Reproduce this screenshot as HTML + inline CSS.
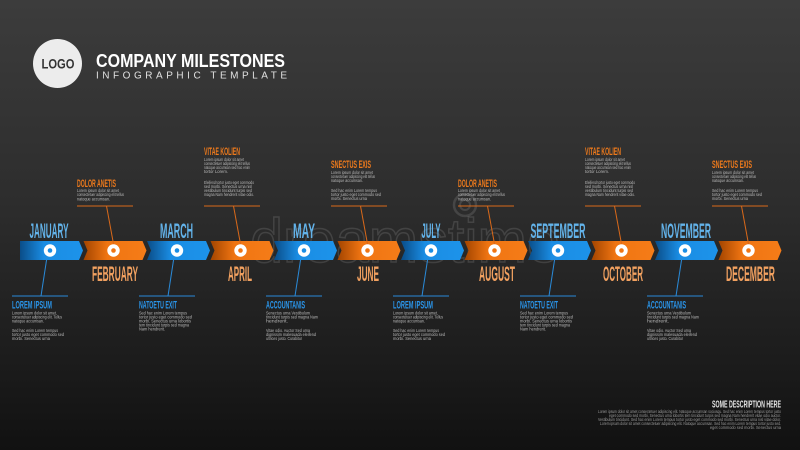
<!DOCTYPE html>
<html><head><meta charset="utf-8">
<style>
html,body{margin:0;padding:0;background:#222;}
svg{display:block;}
.t{font-family:"Liberation Sans",sans-serif;}
.m{font-family:"Liberation Sans Narrow","Liberation Sans",sans-serif;font-weight:bold;}
.tiny{font-family:"Liberation Sans",sans-serif;font-size:4.3px;fill:#b8b8b8;}
</style></head>
<body>
<svg width="800" height="450" viewBox="0 0 800 450" xmlns="http://www.w3.org/2000/svg">
<defs>
<linearGradient id="bg" x1="0" y1="0" x2="0" y2="1">
<stop offset="0" stop-color="#3c3c3c"/><stop offset="0.45" stop-color="#2d2d2d"/><stop offset="0.8" stop-color="#1c1c1c"/><stop offset="1" stop-color="#111"/>
</linearGradient>
<linearGradient id="gb" x1="0" y1="0" x2="1" y2="0">
<stop offset="0" stop-color="#0a4d88"/><stop offset="0.38" stop-color="#1a8de4"/><stop offset="1" stop-color="#1d93ea"/>
</linearGradient>
<linearGradient id="go" x1="0" y1="0" x2="1" y2="0">
<stop offset="0" stop-color="#a34500"/><stop offset="0.38" stop-color="#f07512"/><stop offset="1" stop-color="#f57c18"/>
</linearGradient>
</defs>
<rect width="800" height="450" fill="url(#bg)"/>

<!-- watermark -->
<text x="250" y="262" class="t" font-size="62" fill="none" stroke="rgba(255,255,255,0.12)" stroke-width="1.5" textLength="310" lengthAdjust="spacingAndGlyphs">dreamstime</text>
<circle cx="465" cy="205" r="11" fill="none" stroke="rgba(255,255,255,0.12)" stroke-width="2.5"/>
<circle cx="465" cy="205" r="5" fill="none" stroke="rgba(255,255,255,0.12)" stroke-width="2"/>

<!-- header -->
<circle cx="57.5" cy="63.5" r="24.5" fill="#ececec"/>
<text x="58" y="68.5" class="t" font-size="14" font-weight="bold" fill="#333" text-anchor="middle" textLength="33" lengthAdjust="spacingAndGlyphs">LOGO</text>
<text x="96" y="67" class="t" font-size="18.5" font-weight="bold" fill="#fff" textLength="189" lengthAdjust="spacingAndGlyphs">COMPANY MILESTONES</text>
<text x="96" y="78.5" class="t" font-size="10" fill="#e0e0e0" textLength="191" lengthAdjust="spacing">INFOGRAPHIC TEMPLATE</text>

<!-- segments -->
<g>
<polygon points="20,241 79,241 83,250.5 79,260 20,260" fill="url(#gb)"/>
<polygon points="83.5,241 142.5,241 146.5,250.5 142.5,260 83.5,260 87.5,250.5" fill="url(#go)"/>
<polygon points="147,241 206,241 210,250.5 206,260 147,260 151,250.5" fill="url(#gb)"/>
<polygon points="210.5,241 269.5,241 273.5,250.5 269.5,260 210.5,260 214.5,250.5" fill="url(#go)"/>
<polygon points="274,241 333,241 337,250.5 333,260 274,260 278,250.5" fill="url(#gb)"/>
<polygon points="337.5,241 396.5,241 400.5,250.5 396.5,260 337.5,260 341.5,250.5" fill="url(#go)"/>
<polygon points="401,241 460,241 464,250.5 460,260 401,260 405,250.5" fill="url(#gb)"/>
<polygon points="464.5,241 523.5,241 527.5,250.5 523.5,260 464.5,260 468.5,250.5" fill="url(#go)"/>
<polygon points="528,241 587,241 591,250.5 587,260 528,260 532,250.5" fill="url(#gb)"/>
<polygon points="591.5,241 650.5,241 654.5,250.5 650.5,260 591.5,260 595.5,250.5" fill="url(#go)"/>
<polygon points="655,241 714,241 718,250.5 714,260 655,260 659,250.5" fill="url(#gb)"/>
<polygon points="718.5,241 777.5,241 781.5,250.5 777.5,260 718.5,260 722.5,250.5" fill="url(#go)"/>
</g>

<!-- circles -->
<g>
<circle cx="50" cy="250.5" r="6.2" fill="#fff"/><circle cx="50" cy="250.5" r="2.3" fill="#1a8de4"/>
<circle cx="113.5" cy="250.5" r="6.2" fill="#fff"/><circle cx="113.5" cy="250.5" r="2.3" fill="#f07512"/>
<circle cx="177" cy="250.5" r="6.2" fill="#fff"/><circle cx="177" cy="250.5" r="2.3" fill="#1a8de4"/>
<circle cx="240.5" cy="250.5" r="6.2" fill="#fff"/><circle cx="240.5" cy="250.5" r="2.3" fill="#f07512"/>
<circle cx="304" cy="250.5" r="6.2" fill="#fff"/><circle cx="304" cy="250.5" r="2.3" fill="#1a8de4"/>
<circle cx="367.5" cy="250.5" r="6.2" fill="#fff"/><circle cx="367.5" cy="250.5" r="2.3" fill="#f07512"/>
<circle cx="431" cy="250.5" r="6.2" fill="#fff"/><circle cx="431" cy="250.5" r="2.3" fill="#1a8de4"/>
<circle cx="494.5" cy="250.5" r="6.2" fill="#fff"/><circle cx="494.5" cy="250.5" r="2.3" fill="#f07512"/>
<circle cx="558" cy="250.5" r="6.2" fill="#fff"/><circle cx="558" cy="250.5" r="2.3" fill="#1a8de4"/>
<circle cx="621.5" cy="250.5" r="6.2" fill="#fff"/><circle cx="621.5" cy="250.5" r="2.3" fill="#f07512"/>
<circle cx="685" cy="250.5" r="6.2" fill="#fff"/><circle cx="685" cy="250.5" r="2.3" fill="#1a8de4"/>
<circle cx="748.5" cy="250.5" r="6.2" fill="#fff"/><circle cx="748.5" cy="250.5" r="2.3" fill="#f07512"/>
</g>

<!-- month labels -->
<g class="m" font-size="21" text-anchor="middle">
<text x="49" y="238" fill="#63b3ea" textLength="39" lengthAdjust="spacingAndGlyphs">JANUARY</text>
<text x="176.5" y="238" fill="#63b3ea" textLength="33" lengthAdjust="spacingAndGlyphs">MARCH</text>
<text x="304" y="238" fill="#63b3ea" textLength="22" lengthAdjust="spacingAndGlyphs">MAY</text>
<text x="431" y="238" fill="#63b3ea" textLength="19" lengthAdjust="spacingAndGlyphs">JULY</text>
<text x="558" y="238" fill="#63b3ea" textLength="55" lengthAdjust="spacingAndGlyphs">SEPTEMBER</text>
<text x="686" y="238" fill="#63b3ea" textLength="50" lengthAdjust="spacingAndGlyphs">NOVEMBER</text>
<text x="115" y="281" fill="#f2a160" textLength="46" lengthAdjust="spacingAndGlyphs">FEBRUARY</text>
<text x="240" y="281" fill="#f2a160" textLength="24" lengthAdjust="spacingAndGlyphs">APRIL</text>
<text x="368" y="281" fill="#f2a160" textLength="22" lengthAdjust="spacingAndGlyphs">JUNE</text>
<text x="497" y="281" fill="#f2a160" textLength="36" lengthAdjust="spacingAndGlyphs">AUGUST</text>
<text x="623" y="281" fill="#f2a160" textLength="40" lengthAdjust="spacingAndGlyphs">OCTOBER</text>
<text x="750.5" y="281" fill="#f2a160" textLength="49" lengthAdjust="spacingAndGlyphs">DECEMBER</text>
</g>

<!-- top connectors & rules (orange) -->
<g stroke="#d9691a" stroke-width="1" fill="none">
<line x1="77" y1="206" x2="133" y2="206"/><line x1="106.5" y1="206" x2="113.5" y2="244"/>
<line x1="204" y1="206" x2="260" y2="206"/><line x1="233.5" y1="206" x2="240.5" y2="244"/>
<line x1="331" y1="206" x2="387" y2="206"/><line x1="360.5" y1="206" x2="367.5" y2="244"/>
<line x1="458" y1="206" x2="514" y2="206"/><line x1="487.5" y1="206" x2="494.5" y2="244"/>
<line x1="585" y1="206" x2="641" y2="206"/><line x1="614.5" y1="206" x2="621.5" y2="244"/>
<line x1="712" y1="206" x2="768" y2="206"/><line x1="741.5" y1="206" x2="748.5" y2="244"/>
</g>
<!-- bottom connectors & rules (blue) -->
<g stroke="#2a8ad8" stroke-width="1" fill="none">
<line x1="12" y1="296" x2="68" y2="296"/><line x1="47" y1="257" x2="41" y2="296"/>
<line x1="139" y1="296" x2="195" y2="296"/><line x1="174" y1="257" x2="168" y2="296"/>
<line x1="266" y1="296" x2="322" y2="296"/><line x1="301" y1="257" x2="295" y2="296"/>
<line x1="393" y1="296" x2="449" y2="296"/><line x1="428" y1="257" x2="422" y2="296"/>
<line x1="520" y1="296" x2="576" y2="296"/><line x1="555" y1="257" x2="549" y2="296"/>
<line x1="647" y1="296" x2="703" y2="296"/><line x1="682" y1="257" x2="676" y2="296"/>
</g>

<!-- top callouts -->
<g class="m" font-size="11" fill="#ee7a1c">
<text x="77" y="187" textLength="39" lengthAdjust="spacingAndGlyphs">DOLOR ANETIS</text>
<text x="204" y="155" textLength="36" lengthAdjust="spacingAndGlyphs">VITAE KOLIEN</text>
<text x="331" y="168" textLength="40" lengthAdjust="spacingAndGlyphs">SNECTUS EXIS</text>
<text x="458" y="187" textLength="39" lengthAdjust="spacingAndGlyphs">DOLOR ANETIS</text>
<text x="585" y="155" textLength="36" lengthAdjust="spacingAndGlyphs">VITAE KOLIEN</text>
<text x="712" y="168" textLength="40" lengthAdjust="spacingAndGlyphs">SNECTUS EXIS</text>
</g>
<g class="tiny">
<!-- Feb -->
<text x="77" y="192" textLength="42" lengthAdjust="spacingAndGlyphs">Lorem ipsum dolor sit amet</text>
<text x="77" y="196.2" textLength="47" lengthAdjust="spacingAndGlyphs">consectetuer adipiscing elit tellus</text>
<text x="77" y="200.4" textLength="33" lengthAdjust="spacingAndGlyphs">natoque accumsan.</text>
<!-- Aug -->
<text x="458" y="192" textLength="42" lengthAdjust="spacingAndGlyphs">Lorem ipsum dolor sit amet</text>
<text x="458" y="196.2" textLength="47" lengthAdjust="spacingAndGlyphs">consectetuer adipiscing elit tellus</text>
<text x="458" y="200.4" textLength="33" lengthAdjust="spacingAndGlyphs">natoque accumsan.</text>
<!-- Apr -->
<text x="204" y="161" textLength="40" lengthAdjust="spacingAndGlyphs">Lorem ipsum dolor sit amet</text>
<text x="204" y="165" textLength="46" lengthAdjust="spacingAndGlyphs">consectetuer adipiscing elit tellus</text>
<text x="204" y="169" textLength="46" lengthAdjust="spacingAndGlyphs">natoque accumsan sed hac enim</text>
<text x="204" y="173" textLength="24" lengthAdjust="spacingAndGlyphs">tortor Lorem.</text>
<text x="204" y="184" textLength="50" lengthAdjust="spacingAndGlyphs">Eleifend tortor justo eget commodo</text>
<text x="204" y="188" textLength="48" lengthAdjust="spacingAndGlyphs">sed morbi. Senectus urna nisl</text>
<text x="204" y="192" textLength="48" lengthAdjust="spacingAndGlyphs">vestibulum tincidunt turpis sed</text>
<text x="204" y="196" textLength="50" lengthAdjust="spacingAndGlyphs">magna Nam hendrerit vitae odio.</text>
<!-- Oct -->
<text x="585" y="161" textLength="40" lengthAdjust="spacingAndGlyphs">Lorem ipsum dolor sit amet</text>
<text x="585" y="165" textLength="46" lengthAdjust="spacingAndGlyphs">consectetuer adipiscing elit tellus</text>
<text x="585" y="169" textLength="46" lengthAdjust="spacingAndGlyphs">natoque accumsan sed hac enim</text>
<text x="585" y="173" textLength="24" lengthAdjust="spacingAndGlyphs">tortor Lorem.</text>
<text x="585" y="184" textLength="50" lengthAdjust="spacingAndGlyphs">Eleifend tortor justo eget commodo</text>
<text x="585" y="188" textLength="48" lengthAdjust="spacingAndGlyphs">sed morbi. Senectus urna nisl</text>
<text x="585" y="192" textLength="48" lengthAdjust="spacingAndGlyphs">vestibulum tincidunt turpis sed</text>
<text x="585" y="196" textLength="50" lengthAdjust="spacingAndGlyphs">magna Nam hendrerit vitae odio.</text>
<!-- Jun -->
<text x="331" y="174" textLength="42" lengthAdjust="spacingAndGlyphs">Lorem ipsum dolor sit amet</text>
<text x="331" y="178" textLength="44" lengthAdjust="spacingAndGlyphs">consectetuer adipiscing elit tellus</text>
<text x="331" y="182" textLength="32" lengthAdjust="spacingAndGlyphs">natoque accumsan.</text>
<text x="331" y="192" textLength="46" lengthAdjust="spacingAndGlyphs">Sed hac enim Lorem tempus</text>
<text x="331" y="196" textLength="50" lengthAdjust="spacingAndGlyphs">tortor justo eget commodo sed</text>
<text x="331" y="200" textLength="36" lengthAdjust="spacingAndGlyphs">morbi. Senectus urna</text>
<!-- Dec -->
<text x="712" y="174" textLength="42" lengthAdjust="spacingAndGlyphs">Lorem ipsum dolor sit amet</text>
<text x="712" y="178" textLength="44" lengthAdjust="spacingAndGlyphs">consectetuer adipiscing elit tellus</text>
<text x="712" y="182" textLength="32" lengthAdjust="spacingAndGlyphs">natoque accumsan.</text>
<text x="712" y="192" textLength="46" lengthAdjust="spacingAndGlyphs">Sed hac enim Lorem tempus</text>
<text x="712" y="196" textLength="50" lengthAdjust="spacingAndGlyphs">tortor justo eget commodo sed</text>
<text x="712" y="200" textLength="36" lengthAdjust="spacingAndGlyphs">morbi. Senectus urna</text>
</g>

<!-- bottom callouts -->
<g class="m" font-size="11" fill="#2a95ea">
<text x="12" y="308.5" textLength="40" lengthAdjust="spacingAndGlyphs">LOREM IPSUM</text>
<text x="139" y="308.5" textLength="38" lengthAdjust="spacingAndGlyphs">NATOETU EXIT</text>
<text x="266" y="308.5" textLength="39" lengthAdjust="spacingAndGlyphs">ACCOUNTANIS</text>
<text x="393" y="308.5" textLength="40" lengthAdjust="spacingAndGlyphs">LOREM IPSUM</text>
<text x="520" y="308.5" textLength="38" lengthAdjust="spacingAndGlyphs">NATOETU EXIT</text>
<text x="647" y="308.5" textLength="39" lengthAdjust="spacingAndGlyphs">ACCOUNTANIS</text>
</g>
<g class="tiny">
<!-- Jan -->
<text x="12" y="314.5" textLength="45" lengthAdjust="spacingAndGlyphs">Lorem ipsum dolor sit amet,</text>
<text x="12" y="318.5" textLength="50" lengthAdjust="spacingAndGlyphs">consectetuer adipiscing elit. Tellus</text>
<text x="12" y="322.5" textLength="32" lengthAdjust="spacingAndGlyphs">natoque accumsan.</text>
<text x="12" y="332" textLength="46" lengthAdjust="spacingAndGlyphs">Sed hac enim Lorem tempus</text>
<text x="12" y="336" textLength="52" lengthAdjust="spacingAndGlyphs">tortor justo eget commodo sed</text>
<text x="12" y="340" textLength="38" lengthAdjust="spacingAndGlyphs">morbi. Senectus urna</text>
<!-- Jul -->
<text x="393" y="314.5" textLength="45" lengthAdjust="spacingAndGlyphs">Lorem ipsum dolor sit amet,</text>
<text x="393" y="318.5" textLength="50" lengthAdjust="spacingAndGlyphs">consectetuer adipiscing elit. Tellus</text>
<text x="393" y="322.5" textLength="32" lengthAdjust="spacingAndGlyphs">natoque accumsan.</text>
<text x="393" y="332" textLength="46" lengthAdjust="spacingAndGlyphs">Sed hac enim Lorem tempus</text>
<text x="393" y="336" textLength="52" lengthAdjust="spacingAndGlyphs">tortor justo eget commodo sed</text>
<text x="393" y="340" textLength="38" lengthAdjust="spacingAndGlyphs">morbi. Senectus urna</text>
<!-- Mar -->
<text x="139" y="314.5" textLength="48" lengthAdjust="spacingAndGlyphs">Sed hac enim Lorem tempus</text>
<text x="139" y="318.5" textLength="53" lengthAdjust="spacingAndGlyphs">tortor justo eget commodo sed</text>
<text x="139" y="322.5" textLength="52" lengthAdjust="spacingAndGlyphs">morbi. Senectus urna lobortis</text>
<text x="139" y="326.5" textLength="50" lengthAdjust="spacingAndGlyphs">tem tincidunt turpis sed magna</text>
<text x="139" y="330.5" textLength="26" lengthAdjust="spacingAndGlyphs">Nam hendrerit.</text>
<!-- Sep -->
<text x="520" y="314.5" textLength="48" lengthAdjust="spacingAndGlyphs">Sed hac enim Lorem tempus</text>
<text x="520" y="318.5" textLength="53" lengthAdjust="spacingAndGlyphs">tortor justo eget commodo sed</text>
<text x="520" y="322.5" textLength="52" lengthAdjust="spacingAndGlyphs">morbi. Senectus urna lobortis</text>
<text x="520" y="326.5" textLength="50" lengthAdjust="spacingAndGlyphs">tem tincidunt turpis sed magna</text>
<text x="520" y="330.5" textLength="26" lengthAdjust="spacingAndGlyphs">Nam hendrerit.</text>
<!-- May -->
<text x="266" y="314.5" textLength="44" lengthAdjust="spacingAndGlyphs">Senectus urna Vestibulum</text>
<text x="266" y="318.5" textLength="52" lengthAdjust="spacingAndGlyphs">tincidunt turpis sed magna Nam</text>
<text x="266" y="322.5" textLength="22" lengthAdjust="spacingAndGlyphs">hendrerit.</text>
<text x="266" y="332" textLength="44" lengthAdjust="spacingAndGlyphs">Vitae odio. Auctor Sed urna</text>
<text x="266" y="336" textLength="50" lengthAdjust="spacingAndGlyphs">dignissim malesuada eleifend</text>
<text x="266" y="340" textLength="36" lengthAdjust="spacingAndGlyphs">ultrices justo. Curabitur</text>
<!-- Nov -->
<text x="647" y="314.5" textLength="44" lengthAdjust="spacingAndGlyphs">Senectus urna Vestibulum</text>
<text x="647" y="318.5" textLength="52" lengthAdjust="spacingAndGlyphs">tincidunt turpis sed magna Nam</text>
<text x="647" y="322.5" textLength="22" lengthAdjust="spacingAndGlyphs">hendrerit.</text>
<text x="647" y="332" textLength="44" lengthAdjust="spacingAndGlyphs">Vitae odio. Auctor Sed urna</text>
<text x="647" y="336" textLength="50" lengthAdjust="spacingAndGlyphs">dignissim malesuada eleifend</text>
<text x="647" y="340" textLength="36" lengthAdjust="spacingAndGlyphs">ultrices justo. Curabitur</text>
</g>

<!-- bottom right description -->
<text x="781" y="407.5" class="m" font-size="10" fill="#e6e6e6" text-anchor="end" textLength="69" lengthAdjust="spacingAndGlyphs">SOME DESCRIPTION HERE</text>
<g class="tiny" fill="#9a9a9a" text-anchor="end" style="fill:#9a9a9a">
<text x="781" y="413" textLength="183" lengthAdjust="spacingAndGlyphs">Lorem ipsum dolor sit amet consectetuer adipiscing elit. Natoque accumsan sociosqu. Sed hac enim Lorem tempus tortor justo</text>
<text x="781" y="417" textLength="172" lengthAdjust="spacingAndGlyphs">eget commodo sed morbi. Senectus urna lobortis tem tincidunt turpis sed magna Nam hendrerit vitae odio auctor.</text>
<text x="781" y="421" textLength="183" lengthAdjust="spacingAndGlyphs">Vestibulum tincidunt. Sed hac enim Lorem tempus tortor justo eget commodo sed morbi. Senectus urna nisl vitae dolor.</text>
<text x="781" y="425" textLength="181" lengthAdjust="spacingAndGlyphs">Lorem ipsum dolor sit amet consectetuer adipiscing elit. Natoque accumsan. Sed hac enim Lorem tempus tortor justo sed.</text>
<text x="781" y="429" textLength="71" lengthAdjust="spacingAndGlyphs">eget commodo sed morbi. Senectus urna</text>
</g>
</svg>
</body></html>
